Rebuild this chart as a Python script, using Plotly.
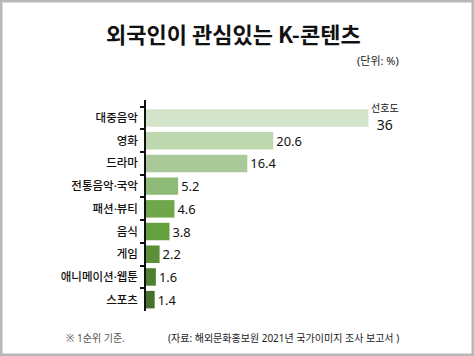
import plotly.graph_objects as go

categories = ["대중음악", "영화", "드라마", "전통음악·국악", "패션·뷰티", "음식", "게임", "애니메이션·웹툰", "스포츠"]
values = [36, 20.6, 16.4, 5.2, 4.6, 3.8, 2.2, 1.6, 1.4]
colors = ["#d4e4cb", "#bdd7ae", "#a9ca98", "#8fbb79", "#6fa74b", "#64a03e", "#5a9036", "#4f8030", "#46702b"]

title_text = "외국인이 관심있는 K-콘텐츠"
unit_text = "(단위: %)"
note_text = "※ 1순위 기준."
source_text = "(자료: 해외문화홍보원 2021년 국가이미지 조사 보고서 )"

W, H = 474, 356
ML, MR, MT, MB = 146, 50, 100, 45
PW, PH = W - ML - MR, H - MT - MB

FONT = "Noto Sans CJK KR"
MIX = "Noto Sans, Noto Sans CJK KR"

labels = [""] + [f"{v:g}" for v in values[1:]]

fig = go.Figure(go.Bar(
    x=values, y=categories, orientation="h",
    marker=dict(color=colors, line=dict(width=0)),
    text=labels, textposition="outside", cliponaxis=False,
    textfont=dict(family=MIX, size=14, color="#111"),
    hoverinfo="skip",
))

fig.add_annotation(x=values[0], y=categories[0], xref="x", yref="y",
                   text=f"<span style='font-size:10px;font-family:Noto Sans CJK KR'>선호도</span><br>{values[0]:g}",
                   showarrow=False, xanchor="left", align="center", xshift=1, yshift=1,
                   font=dict(family=MIX, size=14, color="#111"))

def px_x(p):
    return (p - ML) / PW

def px_y(p):
    return (H - MB - p) / PH

fig.add_annotation(x=px_x(233), y=px_y(33), xref="paper", yref="paper", text=f"<b>{title_text}</b>",
                   showarrow=False, xanchor="center", yanchor="middle",
                   font=dict(family=FONT, size=22, color="#111"))
fig.add_annotation(x=px_x(401), y=px_y(60), xref="paper", yref="paper", text=unit_text,
                   showarrow=False, xanchor="right", yanchor="middle",
                   font=dict(family=MIX, size=11, color="#222"))
fig.add_annotation(x=px_x(64), y=px_y(338), xref="paper", yref="paper", text=note_text,
                   showarrow=False, xanchor="left", yanchor="middle",
                   font=dict(family=MIX, size=10, color="#555"))
fig.add_annotation(x=px_x(401), y=px_y(338), xref="paper", yref="paper", text=source_text,
                   showarrow=False, xanchor="right", yanchor="middle",
                   font=dict(family=MIX, size=10, color="#222"))

fig.add_shape(type="rect", xref="paper", yref="paper",
              x0=px_x(1), x1=px_x(W - 1), y0=px_y(H - 1), y1=px_y(1),
              line=dict(color="#b8b8b8", width=3), fillcolor="rgba(0,0,0,0)", layer="above")

fig.update_layout(
    width=W, height=H,
    margin=dict(l=ML, r=MR, t=MT, b=MB, pad=0),
    paper_bgcolor="white", plot_bgcolor="white",
    showlegend=False, bargap=0.23,
    font=dict(family=MIX, color="#111"),
    xaxis=dict(range=[0, 45], visible=False, fixedrange=True),
    yaxis=dict(autorange="reversed", showline=True, linecolor="#111", linewidth=1.5,
               ticks="outside", tickson="boundaries", ticklen=4, tickcolor="#111", tickwidth=1.5,
               tickfont=dict(family=MIX, size=11.5, color="#111", weight=500), ticklabelstandoff=4,
               showgrid=False, zeroline=False, fixedrange=True),
)

fig.write_html("out.html", config={"displayModeBar": False},
               post_script="document.body.style.margin='0';document.body.style.padding='0';")
